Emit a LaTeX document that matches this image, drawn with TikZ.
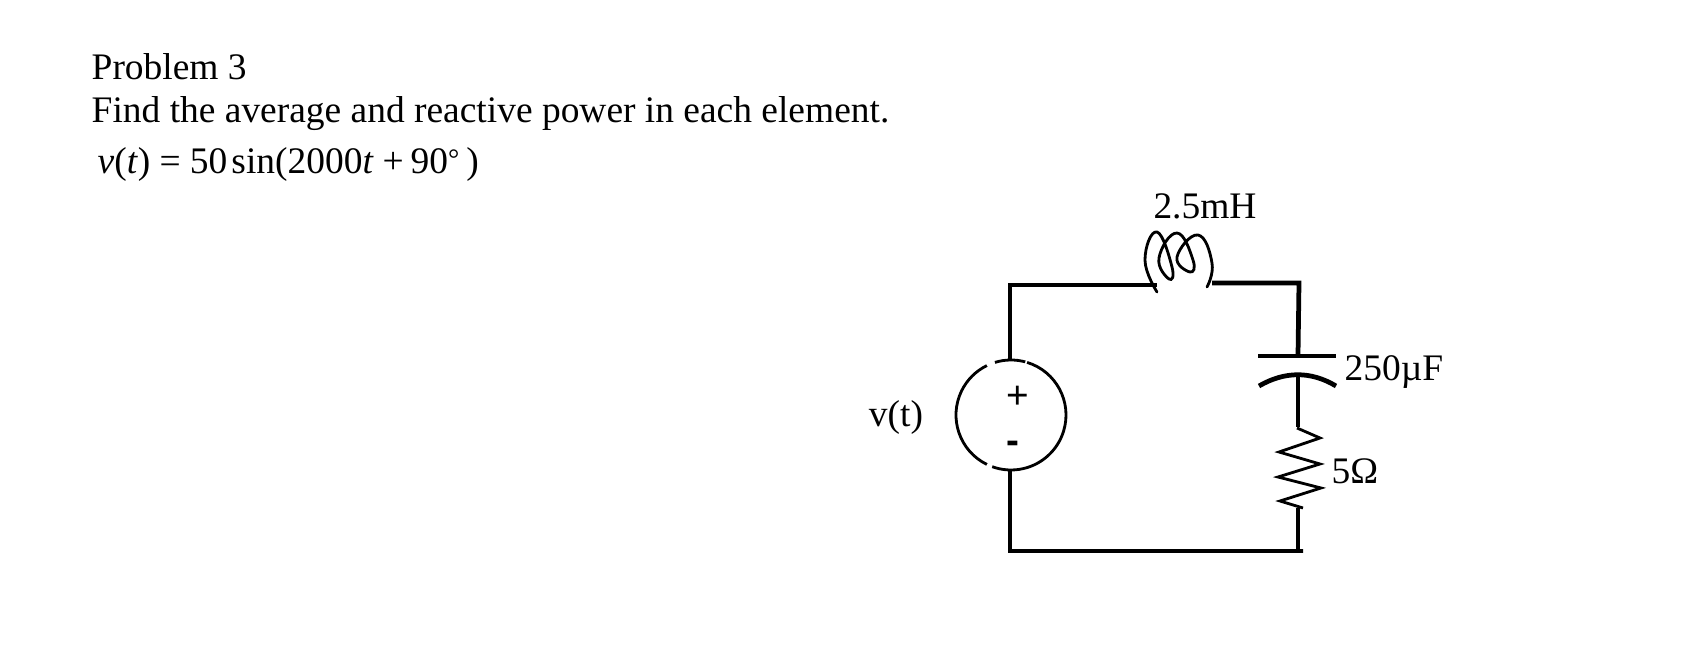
\documentclass[tikz,border=0pt]{standalone}
\usepackage{fontspec}
\setmainfont{Liberation Serif}
\newfontfamily\signfont{Liberation Sans}
\usetikzlibrary{positioning}
\tikzset{
  lbl/.style={inner sep=0pt, font=\fontsize{10.65pt}{12pt}\selectfont, anchor=base west},
  lblmid/.style={lbl, anchor=base},
  wire/.style={line width=1.35pt, line cap=butt},
  thinwire/.style={line width=0.8pt, line join=miter},
  sign/.style={inner sep=0pt, font=\signfont\fontsize{11pt}{12pt}\selectfont}
}
\begin{document}
\begin{tikzpicture}[x=0.01cm, y=-0.01cm]
  \useasboundingbox (0,0) rectangle (1708,667);
  \node (title) [lbl] at (91, 80) {Problem 3};
  \node (task) [lbl] at (91, 123) {Find the average and reactive power in each element.};
  \node (eqn) [lbl] at (97, 174) {\textit{v}(\textit{t})\kern2.6pt=\kern2.6pt50\kern1.2pt sin(2000\textit{t}\kern2.5pt+\kern2pt90\raisebox{1.5pt}{\fontsize{8pt}{9pt}\selectfont°}\kern2pt)};
  \node (indlabel) [lblmid] at (1205, 219) {2.5mH};
  \node (caplabel) [lbl] at (1344, 381) {250µF};
  \node (reslabel) [lbl] at (1331, 483) {5Ω};
  \node (srclabel) [lblmid] at (896, 427) {v(t)};
  \node (plus) [sign] at (1018, 397) {+};
  \node (minus) [sign, font=\signfont\bfseries\fontsize{11pt}{12pt}\selectfont] at (1013, 447) {-};
  \coordinate (topleft) at (1010, 285);
  \coordinate (topright) at (1299, 283);
  \coordinate (botleft) at (1010, 551);
  \coordinate (botright) at (1298, 551);
  \coordinate (srctop) at (1010, 361);
  \coordinate (srcbot) at (1010, 470);
  \coordinate (indin) at (1157, 285);
  \coordinate (indout) at (1212, 283);
  \coordinate (plate) at (1298, 356);
  \coordinate (platelow) at (1298, 375);
  \coordinate (restop) at (1298, 427);
  \coordinate (resbot) at (1298, 508);
  \draw [wire] (srctop) -- (topleft) -- (indin);
  \draw [wire] (indout) -- (topright) -- (plate);
  \draw [wire] (1258, 356) -- (1336, 356);
  \draw [wire] (1259, 386) .. controls (1285, 371) and (1311, 371) .. (1336, 386);
  \draw [wire, line width=1.2pt] (platelow) -- (restop);
  \draw [wire] (resbot) -- (botright) -- (1303, 551) -- (botleft) -- (srcbot);
  \draw [thinwire] (1297, 428) -- (1320, 438) -- (1279, 452) -- (1320, 464)
    -- (1278, 477) -- (1321, 488) -- (1280, 501) -- (1303, 508);
  \draw [thinwire] (1011, 415) ++(-107:55) arc (-107:-75:55);
  \draw [thinwire] (1011, 415) ++(-73:55) arc (-73:110:55);
  \draw [thinwire] (1011, 415) ++(116:55) arc (116:244:55);
  \draw [thinwire, line cap=round] plot [smooth, tension=0.8] coordinates {
    (1157,292) (1145,260) (1157,232) (1172,267) (1169,279) (1159,258) (1177,233)
    (1193,260) (1190,272) (1177,257) (1198,235) (1212,263) (1207,287)};
\end{tikzpicture}
\end{document}
